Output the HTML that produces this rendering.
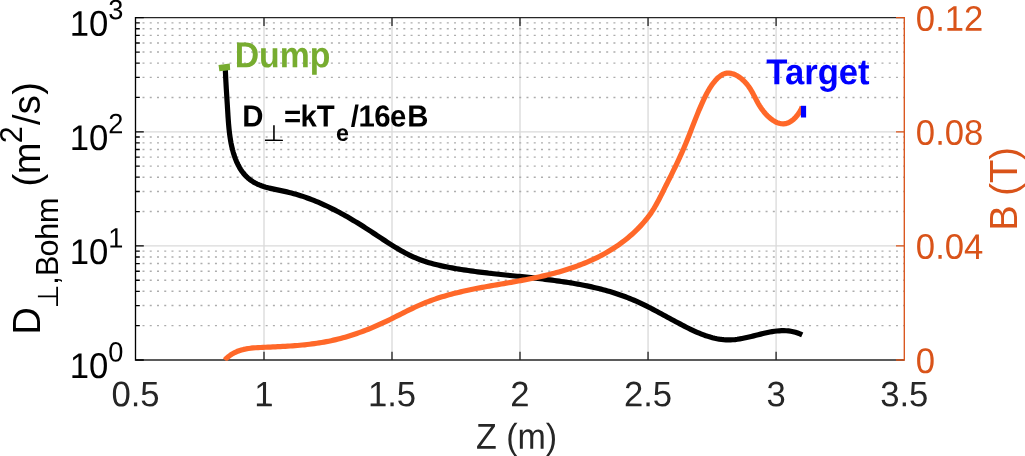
<!DOCTYPE html>
<html><head><meta charset="utf-8"><title>plot</title>
<style>html,body{margin:0;padding:0;background:#fff;overflow:hidden}svg text{white-space:pre}</style>
</head><body>
<svg width="1025" height="456" viewBox="0 0 1025 456" style="display:block">
<rect width="1025" height="456" fill="#fff"/>
<defs><clipPath id="box"><rect x="134.8" y="17.0" width="770.1999999999999" height="343.70"/></clipPath></defs>
<g stroke="#dadada" stroke-width="1.33" fill="none">
<line x1="264.00" y1="17.7" x2="264.00" y2="360.0"/>
<line x1="392.00" y1="17.7" x2="392.00" y2="360.0"/>
<line x1="520.00" y1="17.7" x2="520.00" y2="360.0"/>
<line x1="648.05" y1="17.7" x2="648.05" y2="360.0"/>
<line x1="776.10" y1="17.7" x2="776.10" y2="360.0"/>
<line x1="135.5" y1="131.80" x2="904.3" y2="131.80"/>
<line x1="135.5" y1="245.90" x2="904.3" y2="245.90"/>
</g>
<g stroke="#adadad" stroke-width="1.4" fill="none" stroke-dasharray="2 5.245">
<line x1="142.50" y1="97.45" x2="904.3" y2="97.45"/>
<line x1="142.50" y1="77.36" x2="904.3" y2="77.36"/>
<line x1="142.50" y1="63.10" x2="904.3" y2="63.10"/>
<line x1="142.50" y1="52.05" x2="904.3" y2="52.05"/>
<line x1="142.50" y1="43.01" x2="904.3" y2="43.01"/>
<line x1="142.50" y1="35.37" x2="904.3" y2="35.37"/>
<line x1="142.50" y1="28.76" x2="904.3" y2="28.76"/>
<line x1="142.50" y1="22.92" x2="904.3" y2="22.92"/>
<line x1="142.50" y1="211.55" x2="904.3" y2="211.55"/>
<line x1="142.50" y1="191.46" x2="904.3" y2="191.46"/>
<line x1="142.50" y1="177.20" x2="904.3" y2="177.20"/>
<line x1="142.50" y1="166.15" x2="904.3" y2="166.15"/>
<line x1="142.50" y1="157.11" x2="904.3" y2="157.11"/>
<line x1="142.50" y1="149.47" x2="904.3" y2="149.47"/>
<line x1="142.50" y1="142.86" x2="904.3" y2="142.86"/>
<line x1="142.50" y1="137.02" x2="904.3" y2="137.02"/>
<line x1="142.50" y1="325.65" x2="904.3" y2="325.65"/>
<line x1="142.50" y1="305.56" x2="904.3" y2="305.56"/>
<line x1="142.50" y1="291.30" x2="904.3" y2="291.30"/>
<line x1="142.50" y1="280.25" x2="904.3" y2="280.25"/>
<line x1="142.50" y1="271.21" x2="904.3" y2="271.21"/>
<line x1="142.50" y1="263.57" x2="904.3" y2="263.57"/>
<line x1="142.50" y1="256.96" x2="904.3" y2="256.96"/>
<line x1="142.50" y1="251.12" x2="904.3" y2="251.12"/>
</g>
<g stroke-width="1.33" fill="none">
<path stroke="#262626" d="M135.5,360.0 H904.3 M135.5,17.7 H904.3"/>
<path stroke="#262626" d="M264.00,360.0 v-8.3 M264.00,17.7 v8.3 M392.00,360.0 v-8.3 M392.00,17.7 v8.3 M520.00,360.0 v-8.3 M520.00,17.7 v8.3 M648.05,360.0 v-8.3 M648.05,17.7 v8.3 M776.10,360.0 v-8.3 M776.10,17.7 v8.3 "/>
<path stroke="#000" d="M135.5,17.04 V360.66 M135.5,17.70 h8.3 M135.5,131.80 h8.3 M135.5,245.90 h8.3 M135.5,360.00 h8.3 M135.5,97.45 h4.3 M135.5,77.36 h4.3 M135.5,63.10 h4.3 M135.5,52.05 h4.3 M135.5,43.01 h4.3 M135.5,35.37 h4.3 M135.5,28.76 h4.3 M135.5,22.92 h4.3 M135.5,211.55 h4.3 M135.5,191.46 h4.3 M135.5,177.20 h4.3 M135.5,166.15 h4.3 M135.5,157.11 h4.3 M135.5,149.47 h4.3 M135.5,142.86 h4.3 M135.5,137.02 h4.3 M135.5,325.65 h4.3 M135.5,305.56 h4.3 M135.5,291.30 h4.3 M135.5,280.25 h4.3 M135.5,271.21 h4.3 M135.5,263.57 h4.3 M135.5,256.96 h4.3 M135.5,251.12 h4.3 "/>
<path stroke="#d95319" d="M904.3,17.04 V360.66 M904.3,17.70 h-8.3 M904.3,131.80 h-8.3 M904.3,245.90 h-8.3 M904.3,360.00 h-8.3 "/>
</g>
<path d="M225.35,70.05 L225.45,72.43 L225.56,74.81 L225.67,77.16 L225.79,79.51 L225.91,81.84 L226.04,84.16 L226.17,86.48 L226.31,88.79 L226.45,91.09 L226.59,93.39 L226.73,95.70 L226.88,98.00 L227.02,100.31 L227.17,102.62 L227.32,104.95 L227.46,107.28 L227.61,109.62 L227.76,111.98 L227.90,114.34 L228.05,116.72 L228.22,119.10 L228.39,121.49 L228.57,123.88 L228.78,126.28 L229.01,128.67 L229.26,131.06 L229.54,133.45 L229.85,135.83 L230.20,138.21 L230.59,140.57 L231.01,142.92 L231.49,145.26 L232.01,147.58 L232.58,149.89 L233.20,152.18 L233.89,154.44 L234.64,156.68 L235.45,158.90 L236.33,161.08 L237.28,163.22 L238.31,165.32 L239.41,167.35 L240.60,169.33 L241.87,171.22 L243.23,173.04 L244.68,174.76 L246.23,176.38 L247.86,177.90 L249.58,179.33 L251.38,180.66 L253.26,181.88 L255.20,183.00 L257.22,184.02 L259.30,184.94 L261.43,185.77 L263.62,186.51 L265.85,187.19 L268.12,187.80 L270.43,188.36 L272.75,188.89 L275.10,189.39 L277.45,189.88 L279.82,190.36 L282.18,190.84 L284.53,191.35 L286.87,191.88 L289.19,192.44 L291.50,193.03 L293.80,193.65 L296.08,194.30 L298.34,194.97 L300.60,195.67 L302.84,196.40 L305.06,197.16 L307.27,197.94 L309.48,198.74 L311.66,199.57 L313.84,200.43 L316.01,201.30 L318.16,202.20 L320.30,203.12 L322.44,204.07 L324.56,205.03 L326.67,206.02 L328.77,207.02 L330.87,208.04 L332.95,209.09 L335.03,210.15 L337.10,211.22 L339.16,212.32 L341.21,213.43 L343.25,214.56 L345.29,215.70 L347.32,216.85 L349.35,218.03 L351.37,219.21 L353.38,220.41 L355.39,221.62 L357.39,222.84 L359.39,224.07 L361.38,225.32 L363.37,226.57 L365.35,227.84 L367.33,229.11 L369.31,230.39 L371.29,231.68 L373.26,232.98 L375.23,234.28 L377.20,235.59 L379.17,236.90 L381.14,238.20 L383.11,239.51 L385.09,240.80 L387.06,242.10 L389.05,243.37 L391.04,244.64 L393.04,245.89 L395.04,247.13 L397.06,248.34 L399.08,249.54 L401.12,250.70 L403.16,251.84 L405.22,252.96 L407.30,254.04 L409.39,255.08 L411.49,256.09 L413.61,257.06 L415.75,257.99 L417.91,258.88 L420.09,259.72 L422.29,260.52 L424.51,261.28 L426.74,262.00 L428.98,262.68 L431.24,263.33 L433.51,263.94 L435.79,264.53 L438.08,265.08 L440.39,265.61 L442.69,266.11 L445.01,266.60 L447.33,267.05 L449.65,267.49 L451.97,267.92 L454.30,268.33 L456.63,268.72 L458.95,269.11 L461.28,269.48 L463.61,269.84 L465.93,270.19 L468.26,270.53 L470.58,270.86 L472.91,271.18 L475.23,271.50 L477.56,271.80 L479.88,272.10 L482.20,272.39 L484.53,272.67 L486.85,272.95 L489.18,273.22 L491.50,273.49 L493.83,273.75 L496.15,274.01 L498.48,274.26 L500.80,274.51 L503.13,274.76 L505.46,275.01 L507.78,275.25 L510.11,275.49 L512.44,275.73 L514.77,275.98 L517.09,276.22 L519.42,276.46 L521.75,276.70 L524.08,276.95 L526.41,277.19 L528.74,277.44 L531.07,277.69 L533.41,277.95 L535.74,278.21 L538.07,278.47 L540.41,278.74 L542.74,279.02 L545.08,279.30 L547.42,279.58 L549.75,279.88 L552.09,280.18 L554.43,280.48 L556.77,280.80 L559.11,281.13 L561.45,281.46 L563.79,281.81 L566.13,282.16 L568.46,282.53 L570.80,282.91 L573.13,283.30 L575.46,283.70 L577.79,284.12 L580.11,284.54 L582.43,284.99 L584.75,285.45 L587.06,285.92 L589.37,286.41 L591.67,286.91 L593.97,287.43 L596.26,287.97 L598.54,288.53 L600.82,289.10 L603.10,289.69 L605.36,290.31 L607.62,290.94 L609.87,291.59 L612.12,292.26 L614.35,292.96 L616.58,293.68 L618.80,294.41 L621.01,295.18 L623.21,295.96 L625.39,296.77 L627.57,297.60 L629.74,298.46 L631.90,299.34 L634.04,300.25 L636.18,301.19 L638.30,302.15 L640.42,303.13 L642.53,304.13 L644.63,305.15 L646.72,306.18 L648.81,307.23 L650.89,308.30 L652.97,309.38 L655.04,310.47 L657.12,311.57 L659.19,312.68 L661.26,313.80 L663.33,314.92 L665.40,316.05 L667.47,317.18 L669.54,318.31 L671.62,319.44 L673.70,320.56 L675.79,321.69 L677.89,322.81 L679.99,323.92 L682.09,325.02 L684.21,326.12 L686.33,327.20 L688.46,328.26 L690.60,329.30 L692.75,330.32 L694.91,331.31 L697.08,332.27 L699.25,333.18 L701.43,334.06 L703.62,334.89 L705.82,335.68 L708.02,336.40 L710.24,337.08 L712.46,337.69 L714.69,338.23 L716.92,338.71 L719.17,339.11 L721.42,339.43 L723.68,339.67 L725.95,339.83 L728.22,339.90 L730.50,339.87 L732.79,339.75 L735.09,339.55 L737.39,339.27 L739.69,338.92 L742.01,338.51 L744.32,338.05 L746.64,337.54 L748.97,337.01 L751.30,336.44 L753.63,335.87 L755.96,335.28 L758.29,334.69 L760.63,334.11 L762.96,333.55 L765.30,333.01 L767.63,332.51 L769.96,332.05 L772.29,331.64 L774.62,331.29 L776.95,331.01 L779.27,330.81 L781.59,330.69 L783.91,330.67 L786.22,330.74 L788.52,330.93 L790.82,331.24 L793.11,331.68 L795.40,332.25 L797.68,332.97 L799.95,333.84 L802.21,334.87" fill="none" stroke="#000" stroke-width="5.2" stroke-linejoin="round"/>
<polygon points="218.5,64.9 229.8,63.5 230.2,70.0 219.4,71.3" fill="#77ac30"/>
<text transform="translate(234.64,67.20) rotate(0.03) scale(1,1.04)" font-family="'Liberation Sans', sans-serif" font-size="34.67" fill="#77ac30" font-weight="bold" textLength="95.75" lengthAdjust="spacingAndGlyphs">Dump</text>
<text transform="translate(242.14,126.40) rotate(0.03) scale(1,1.04)" font-family="'Liberation Sans', sans-serif" font-size="29.33" fill="#000" font-weight="bold">D</text>
<text transform="translate(262.80,141.00) rotate(0.03) scale(1,0.878)" font-family="'DejaVu Sans', sans-serif" font-size="25.7" fill="#000">⊥</text>
<text transform="translate(283.90,126.40) rotate(0.03) scale(1,1.04)" font-family="'Liberation Sans', sans-serif" font-size="29.33" fill="#000" font-weight="bold" x="0.00 16.50 32.90">=kT</text>
<text transform="translate(335.90,140.80) rotate(0.03)" font-family="'Liberation Sans', sans-serif" font-size="23.3" fill="#000" font-weight="bold">e</text>
<text transform="translate(350.70,126.40) rotate(0.03) scale(1,1.04)" font-family="'Liberation Sans', sans-serif" font-size="29.33" fill="#000" font-weight="bold" x="0.00 7.70 23.60 39.40 56.60">/16eB</text>
<path d="M224.80,360.03 L226.65,358.14 L228.58,356.46 L230.57,354.97 L232.62,353.67 L234.73,352.53 L236.90,351.55 L239.12,350.71 L241.38,350.00 L243.68,349.41 L246.01,348.92 L248.38,348.52 L250.78,348.21 L253.19,347.96 L255.63,347.77 L258.08,347.61 L260.54,347.49 L263.01,347.38 L265.47,347.27 L267.94,347.17 L270.40,347.06 L272.87,346.95 L275.33,346.84 L277.79,346.72 L280.25,346.60 L282.71,346.46 L285.17,346.32 L287.62,346.18 L290.07,346.02 L292.52,345.85 L294.97,345.66 L297.41,345.47 L299.85,345.26 L302.28,345.03 L304.71,344.79 L307.14,344.53 L309.56,344.25 L311.98,343.94 L314.40,343.62 L316.80,343.28 L319.21,342.91 L321.60,342.52 L324.00,342.10 L326.38,341.66 L328.76,341.19 L331.14,340.69 L333.50,340.16 L335.86,339.61 L338.22,339.03 L340.57,338.42 L342.91,337.79 L345.24,337.13 L347.57,336.44 L349.89,335.74 L352.21,335.00 L354.52,334.25 L356.82,333.46 L359.12,332.66 L361.41,331.83 L363.69,330.99 L365.97,330.12 L368.24,329.22 L370.50,328.31 L372.76,327.38 L375.01,326.42 L377.26,325.45 L379.49,324.45 L381.72,323.44 L383.95,322.41 L386.17,321.36 L388.38,320.29 L390.58,319.22 L392.79,318.12 L394.98,317.03 L397.18,315.92 L399.38,314.82 L401.57,313.71 L403.77,312.61 L405.96,311.52 L408.16,310.43 L410.36,309.36 L412.57,308.30 L414.78,307.26 L417.00,306.24 L419.22,305.25 L421.45,304.28 L423.70,303.34 L425.95,302.43 L428.21,301.55 L430.47,300.70 L432.75,299.88 L435.04,299.08 L437.33,298.31 L439.63,297.57 L441.94,296.85 L444.26,296.15 L446.58,295.48 L448.91,294.82 L451.25,294.19 L453.59,293.58 L455.94,292.98 L458.30,292.41 L460.66,291.85 L463.02,291.30 L465.39,290.78 L467.77,290.26 L470.15,289.76 L472.53,289.27 L474.92,288.79 L477.31,288.32 L479.71,287.86 L482.11,287.41 L484.51,286.97 L486.91,286.54 L489.32,286.10 L491.73,285.68 L494.14,285.26 L496.55,284.84 L498.97,284.42 L501.38,284.00 L503.80,283.59 L506.22,283.17 L508.63,282.75 L511.05,282.33 L513.47,281.90 L515.88,281.47 L518.30,281.03 L520.71,280.59 L523.13,280.14 L525.54,279.68 L527.95,279.21 L530.36,278.74 L532.77,278.25 L535.17,277.75 L537.57,277.23 L539.97,276.70 L542.36,276.16 L544.76,275.60 L547.14,275.03 L549.52,274.44 L551.90,273.83 L554.27,273.21 L556.63,272.57 L558.99,271.91 L561.34,271.23 L563.69,270.53 L566.02,269.81 L568.35,269.07 L570.66,268.31 L572.97,267.52 L575.27,266.72 L577.55,265.89 L579.83,265.04 L582.09,264.16 L584.35,263.26 L586.59,262.34 L588.81,261.39 L591.03,260.41 L593.23,259.41 L595.42,258.37 L597.59,257.31 L599.74,256.23 L601.88,255.11 L604.01,253.96 L606.12,252.79 L608.21,251.58 L610.28,250.34 L612.33,249.07 L614.37,247.77 L616.39,246.43 L618.39,245.06 L620.37,243.66 L622.33,242.22 L624.26,240.74 L626.18,239.23 L628.07,237.69 L629.95,236.11 L631.80,234.49 L633.62,232.83 L635.42,231.13 L637.19,229.41 L638.93,227.64 L640.63,225.84 L642.30,224.01 L643.93,222.15 L645.51,220.26 L647.05,218.34 L648.55,216.39 L649.99,214.41 L651.38,212.40 L652.71,210.37 L654.00,208.32 L655.23,206.25 L656.43,204.15 L657.59,202.04 L658.72,199.91 L659.83,197.77 L660.93,195.62 L662.02,193.47 L663.10,191.30 L664.19,189.13 L665.27,186.96 L666.37,184.79 L667.46,182.61 L668.55,180.42 L669.64,178.24 L670.73,176.05 L671.82,173.85 L672.90,171.66 L673.98,169.45 L675.05,167.25 L676.11,165.04 L677.17,162.83 L678.21,160.61 L679.25,158.39 L680.27,156.16 L681.28,153.93 L682.28,151.70 L683.26,149.46 L684.22,147.22 L685.17,144.98 L686.10,142.72 L687.02,140.47 L687.93,138.21 L688.82,135.96 L689.71,133.69 L690.60,131.43 L691.48,129.17 L692.36,126.91 L693.24,124.64 L694.12,122.38 L695.01,120.12 L695.90,117.86 L696.81,115.61 L697.72,113.35 L698.65,111.10 L699.60,108.86 L700.57,106.61 L701.55,104.38 L702.56,102.15 L703.59,99.92 L704.64,97.71 L705.73,95.50 L706.86,93.30 L708.04,91.13 L709.28,88.99 L710.60,86.88 L712.00,84.81 L713.51,82.80 L715.12,80.84 L716.84,78.96 L718.67,77.21 L720.60,75.69 L722.62,74.45 L724.70,73.59 L726.84,73.14 L729.02,73.08 L731.22,73.38 L733.42,74.00 L735.60,74.92 L737.74,76.08 L739.82,77.47 L741.82,79.04 L743.72,80.76 L745.51,82.59 L747.16,84.51 L748.65,86.48 L750.01,88.49 L751.27,90.53 L752.44,92.60 L753.56,94.69 L754.65,96.80 L755.75,98.93 L756.88,101.08 L758.06,103.22 L759.34,105.38 L760.73,107.52 L762.22,109.65 L763.82,111.72 L765.51,113.71 L767.28,115.60 L769.12,117.36 L771.03,118.96 L773.00,120.39 L775.02,121.60 L777.07,122.58 L779.15,123.31 L781.25,123.74 L783.37,123.87 L785.49,123.66 L787.60,123.08 L789.69,122.12 L791.75,120.79 L793.73,119.17 L795.61,117.30 L797.35,115.27 L798.91,113.12 L800.27,110.93 L801.39,108.75 L802.22,106.65" fill="none" stroke="#ff6829" stroke-width="5.2" stroke-linejoin="round" clip-path="url(#box)"/>
<rect x="800.9" y="105.8" width="5.2" height="11.7" fill="#0000ff"/>
<text transform="translate(766.30,84.20) rotate(0.03) scale(1,1.04)" font-family="'Liberation Sans', sans-serif" font-size="34.67" fill="#0000ff" font-weight="bold" textLength="103.3" lengthAdjust="spacingAndGlyphs">Target</text>
<text transform="translate(135.50,406.35) rotate(0.03) scale(1,1.02)" font-family="'Liberation Sans', sans-serif" font-size="34.67" fill="#262626" text-anchor="middle">0.5</text>
<text transform="translate(264.00,406.35) rotate(0.03) scale(1,1.02)" font-family="'Liberation Sans', sans-serif" font-size="34.67" fill="#262626" text-anchor="middle">1</text>
<text transform="translate(392.00,406.35) rotate(0.03) scale(1,1.02)" font-family="'Liberation Sans', sans-serif" font-size="34.67" fill="#262626" text-anchor="middle">1.5</text>
<text transform="translate(520.00,406.35) rotate(0.03) scale(1,1.02)" font-family="'Liberation Sans', sans-serif" font-size="34.67" fill="#262626" text-anchor="middle">2</text>
<text transform="translate(648.05,406.35) rotate(0.03) scale(1,1.02)" font-family="'Liberation Sans', sans-serif" font-size="34.67" fill="#262626" text-anchor="middle">2.5</text>
<text transform="translate(776.10,406.35) rotate(0.03) scale(1,1.02)" font-family="'Liberation Sans', sans-serif" font-size="34.67" fill="#262626" text-anchor="middle">3</text>
<text transform="translate(904.30,406.35) rotate(0.03) scale(1,1.02)" font-family="'Liberation Sans', sans-serif" font-size="34.67" fill="#262626" text-anchor="middle">3.5</text>
<text transform="translate(69.77,35.80) rotate(0.03) scale(1,1.03)" font-family="'Liberation Sans', sans-serif" font-size="34.67" fill="#000">10<tspan font-size="27.2" dx="-0.2" dy="-16.1">3</tspan></text>
<text transform="translate(69.77,149.90) rotate(0.03) scale(1,1.03)" font-family="'Liberation Sans', sans-serif" font-size="34.67" fill="#000">10<tspan font-size="27.2" dx="-0.2" dy="-16.1">2</tspan></text>
<text transform="translate(69.77,264.00) rotate(0.03) scale(1,1.03)" font-family="'Liberation Sans', sans-serif" font-size="34.67" fill="#000">10<tspan font-size="27.2" dx="-0.2" dy="-16.1">1</tspan></text>
<text transform="translate(69.77,378.10) rotate(0.03) scale(1,1.03)" font-family="'Liberation Sans', sans-serif" font-size="34.67" fill="#000">10<tspan font-size="27.2" dx="-0.2" dy="-16.1">0</tspan></text>
<text transform="translate(915.85,30.65) rotate(0.03) scale(1,1.025)" font-family="'Liberation Sans', sans-serif" font-size="34.67" fill="#d95319">0.12</text>
<text transform="translate(915.85,144.75) rotate(0.03) scale(1,1.025)" font-family="'Liberation Sans', sans-serif" font-size="34.67" fill="#d95319">0.08</text>
<text transform="translate(915.85,258.85) rotate(0.03) scale(1,1.025)" font-family="'Liberation Sans', sans-serif" font-size="34.67" fill="#d95319">0.04</text>
<text transform="translate(915.85,372.95) rotate(0.03) scale(1,1.025)" font-family="'Liberation Sans', sans-serif" font-size="34.67" fill="#d95319">0</text>
<text transform="translate(476.00,448.80) rotate(0.03) scale(1,1.04)" font-family="'Liberation Sans', sans-serif" font-size="34.67" fill="#262626" textLength="81.2" lengthAdjust="spacingAndGlyphs">Z (m)</text>
<text transform="translate(1017.4,400) rotate(-90) scale(1,1.04)" font-family="'Liberation Sans', sans-serif" font-size="38.13" fill="#d95319" x="169.3 194.7 204.38 217.08 240.37" y="0">B (T)</text>
<text transform="translate(40,400) rotate(-90) scale(1,1.04)" font-family="'Liberation Sans', sans-serif" font-size="38.13" fill="#000"><tspan x="65.27" y="0">D</tspan><tspan x="91.85" y="17.02" font-family="'DejaVu Sans', sans-serif" font-size="27.6">⊥</tspan><tspan x="115.2 124.1 143.5 160.3 177" y="17.31" font-size="30.5">,Bohm</tspan><tspan x="203.5 213.5 225.67" y="0"> (m</tspan><tspan x="256.87" y="-17.60" font-size="30.5">2</tspan><tspan x="274.9 285.84 305.2" y="0">/s)</tspan></text>
</svg>
</body></html>
